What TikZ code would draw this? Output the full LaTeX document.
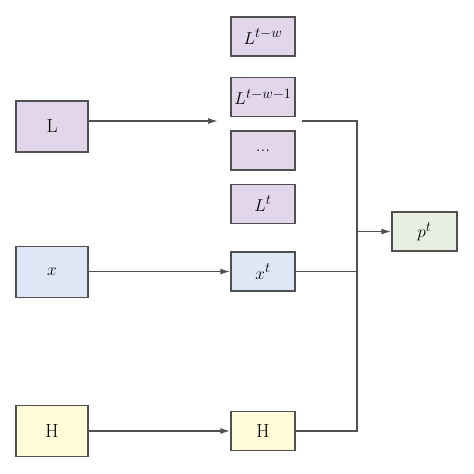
\documentclass[tikz,border=0pt]{standalone}
\usepackage{tikz}
\usetikzlibrary{positioning, calc, arrows.meta}

\definecolor{boxline}{HTML}{505050}
\definecolor{lfill}{HTML}{E2D6EA}
\definecolor{xfill}{HTML}{DDE7F6}
\definecolor{hfill}{HTML}{FFFAD8}
\definecolor{pfill}{HTML}{E6EFE1}

\begin{document}
\begin{tikzpicture}[
    x=1pt, y=-1pt,
    >={Latex[length=10pt, width=6pt]},
    node distance=13pt,
    conn/.style={line width=1.4pt, draw=boxline},
    inbox/.style={draw=boxline, line width=1.4pt, minimum width=72pt, minimum height=51pt, inner sep=0pt, font=\fontsize{19}{21}\selectfont},
    winbox/.style={draw=boxline, line width=1.4pt, minimum width=64pt, minimum height=39pt, inner sep=0pt, fill=lfill, font=\fontsize{19}{21}\selectfont}]

    \useasboundingbox (0,0) rectangle (474,474);

    \node at (52,126.5)[inbox, fill=lfill] (L) {L};
    \node at (52,272)[inbox, fill=xfill] (x) {$x$};
    \node at (52,431)[inbox, fill=hfill] (H) {H};

    \node at (263,36.5)[winbox] (Lw) {$L^{t-w}$};
    \node [winbox, below=20pt of Lw] (Lw1) {$L^{t-w-1}$};
    \node [winbox, below=of Lw1] (Ldots) {...};
    \node [winbox, below=of Ldots] (Lt) {$L^{t}$};
    \node at (263,271.5)[winbox, fill=xfill] (xt) {$x^{t}$};
    \node at (263,431)[winbox, fill=hfill] (Ht) {H};

    \node at (424.5,231.5)[winbox, minimum width=65pt, fill=pfill] (p) {$p^{t}$};

    %%% window in and out
    \coordinate (Lin) at (218,121);
    \coordinate (Lout) at (302,121);
    \coordinate (join) at (357,121);

    %%% Relations between components
    \draw[conn, ->] (L.east |- Lin) -- (Lin);
    \draw[conn, ->] (x.east |- xt.west) -- (xt.west);
    \draw[conn, ->] (H.east) -- (Ht.west);

    \draw[conn] (Lout) -- (join) -- (join |- Ht.east) -- (Ht.east);
    \draw[conn] (xt.east) -- (join |- xt.east);
    \draw[conn, ->] (join |- p.west) -- (p.west);

\end{tikzpicture}
\end{document}
